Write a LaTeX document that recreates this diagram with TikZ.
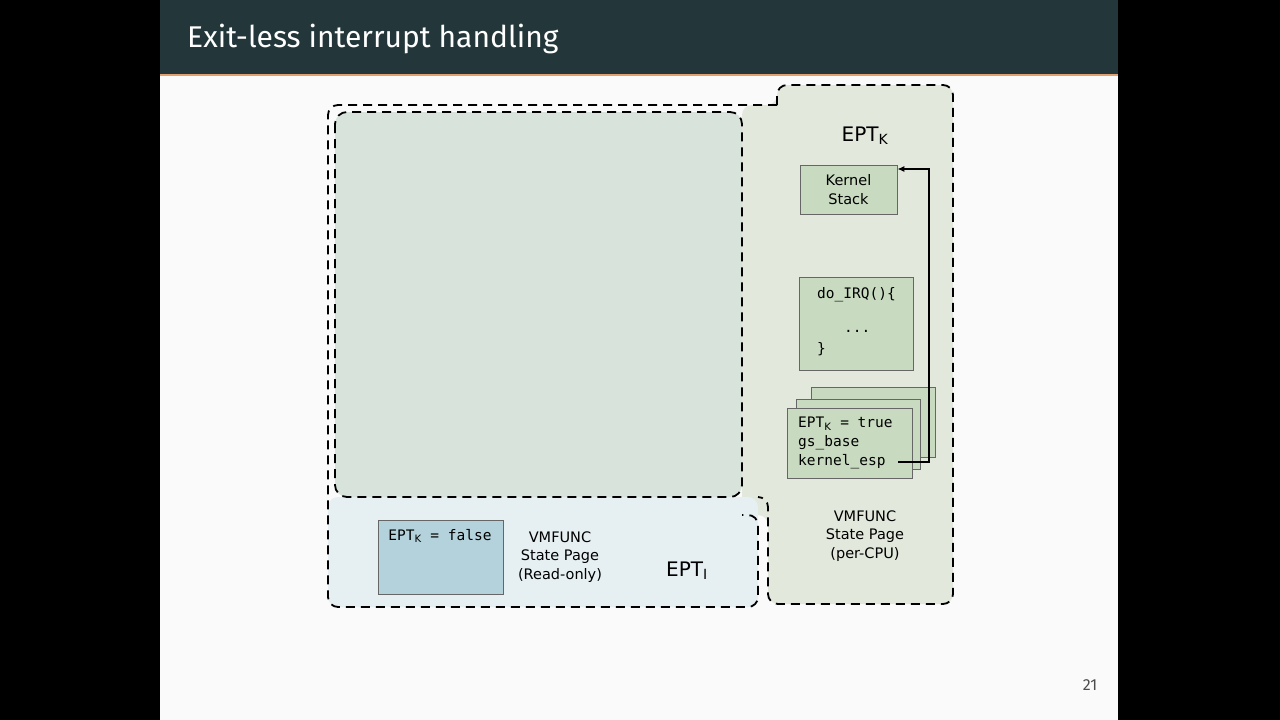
\documentclass[tikz,border=0pt]{standalone}
\usepackage{fontspec}
\setmainfont{Fira Sans}
\newfontfamily\dv{DejaVu Sans}
\newfontfamily\dvm{DejaVu Sans Mono}
\usetikzlibrary{arrows.meta}
\definecolor{hdr}{HTML}{23373B}
\definecolor{org}{HTML}{E0A070}
\definecolor{inner}{HTML}{D8E3DC}
\definecolor{epti}{HTML}{E6EFF2}
\definecolor{eptk}{HTML}{E3E8DC}
\definecolor{gbox}{HTML}{C8DBC0}
\definecolor{bbox}{HTML}{B4D2DC}
\tikzset{
 dsh/.style={draw=black,line width=1.8pt,dash pattern=on 9pt off 6pt},
 gb/.style={draw=black!60,line width=0.8pt,fill=gbox},
 lbl/.style={font=\dv\fontsize{14.5}{18.5}\selectfont,align=center,inner sep=0pt},
 mono/.style={font=\dvm\fontsize{14.5}{18.7}\selectfont,align=left,inner sep=0pt,anchor=north west},
}
\begin{document}
\begin{tikzpicture}[x=1pt,y=-1pt]
\useasboundingbox (0,0) rectangle (1280,720);
\fill[black] (0,0) rectangle (1280,720);
\fill[white!98!black] (160,0) rectangle (1118,720);
\fill[hdr] (160,0) rectangle (1118,74);
\fill[org] (160,74) rectangle (1118,76);
\node[anchor=west,text=white,font=\fontsize{30}{34}\selectfont,inner sep=0pt] (title) at (187,39) {Exit-less interrupt handling};
% EPT_K region
\fill[eptk,rounded corners=10pt] (742,105) -- (777,105) -- (777,85) -- (953,85) -- (953,604) -- (768,604) -- (768,515) -- (742,515) -- cycle;
\draw[dsh,rounded corners=10pt] (777,105) -- (777,85) -- (953,85) -- (953,604) -- (768,604) -- (768,497) -- (758,497);
% EPT_I region
\fill[epti,rounded corners=10pt] (328,497) -- (758,497) -- (758,607) -- (328,607) -- cycle;
\draw[dsh,rounded corners=10pt] (777,105) -- (328,105) -- (328,607) -- (758,607) -- (758,515) -- (742,515);
% inner box
\draw[dsh,fill=inner,rounded corners=12pt] (335,112) rectangle (742,497);
% EPT_K label
\node[font=\dv\fontsize{20}{24}\selectfont,inner sep=0pt] (ek) at (865,136) {EPT\textsubscript{K}};
\node[gb,minimum width=97pt,minimum height=49pt,lbl] (ks) at (848.5,189.5) {Kernel\\Stack};
\draw[gb] (799,277) rectangle (913,370);
\node[mono,anchor=west] (irq1) at (817,295) {do\_IRQ()\{};
\node[mono,anchor=west] (irq2) at (844,331) {...};
\node[mono,anchor=west] (irq3) at (817,349) {\}};
\draw[gb] (811,387) rectangle (935,457);
\draw[gb] (796,399) rectangle (920,469);
\draw[gb] (787,408) rectangle (912,478);
\node[mono] (st) at (798,417) {EPT\textsubscript{\dv K} = true\\gs\_base\\kernel\_esp};
\coordinate (s0) at (898,462);
\coordinate (s1) at (929,462);
\coordinate (s2) at (929,169);
\draw[line width=1.2pt,-{Latex[length=7pt,width=6pt]}] (s0) -- (s1) -- (s2) -- (ks.east |- s2);
\node[lbl] (vk) at (865,536) {VMFUNC\\State Page\\(per-CPU)};
% EPT_I content
\draw[draw=black!60,line width=0.8pt,fill=bbox] (378,520) rectangle (503,594);
\node[mono,anchor=north] (fb) at (440,529) {EPT\textsubscript{\dv K} = false};
\node[lbl] (vi) at (560,557) {VMFUNC\\State Page\\(Read-only)};
\node[font=\dv\fontsize{20}{24}\selectfont,inner sep=0pt] (ei) at (687,571) {EPT\textsubscript{I}};
\node[text=black!70,font=\fontsize{16}{18}\selectfont] (pg) at (1090,685) {21};
\end{tikzpicture}
\end{document}
